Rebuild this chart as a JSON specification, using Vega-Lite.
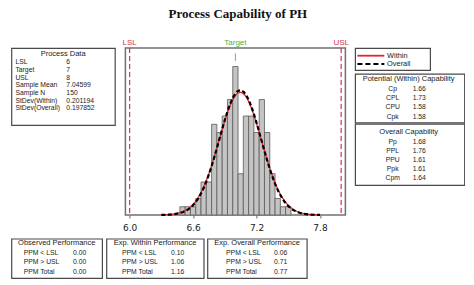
{
  "$schema": "https://vega.github.io/schema/vega-lite/v6.json",
  "background": "white",
  "padding": {"left": 10.4, "top": 8, "right": 0, "bottom": 0},
  "title": {"text": "Process Capability of PH", "font": "Liberation Serif", "fontSize": 13, "fontWeight": "bold", "color": "#111111", "anchor": "middle", "offset": 17},
  "config": {
    "view": {"stroke": "#4a4a4a", "strokeWidth": 1},
    "text": {"font": "Liberation Sans", "color": "#1a1a1a"}
  },
  "datasets": {
    "bins": [
      {"bin_start": 6.475, "bin_end": 6.525, "count": 1},
      {"bin_start": 6.525, "bin_end": 6.575, "count": 1},
      {"bin_start": 6.575, "bin_end": 6.625, "count": 1},
      {"bin_start": 6.625, "bin_end": 6.675, "count": 2},
      {"bin_start": 6.675, "bin_end": 6.725, "count": 4},
      {"bin_start": 6.725, "bin_end": 6.775, "count": 4},
      {"bin_start": 6.775, "bin_end": 6.825, "count": 11},
      {"bin_start": 6.825, "bin_end": 6.875, "count": 10},
      {"bin_start": 6.875, "bin_end": 6.925, "count": 12},
      {"bin_start": 6.925, "bin_end": 6.975, "count": 14},
      {"bin_start": 6.975, "bin_end": 7.025, "count": 18},
      {"bin_start": 7.025, "bin_end": 7.075, "count": 5},
      {"bin_start": 7.075, "bin_end": 7.125, "count": 12},
      {"bin_start": 7.125, "bin_end": 7.175, "count": 12},
      {"bin_start": 7.175, "bin_end": 7.225, "count": 10},
      {"bin_start": 7.225, "bin_end": 7.275, "count": 14},
      {"bin_start": 7.275, "bin_end": 7.325, "count": 10},
      {"bin_start": 7.325, "bin_end": 7.375, "count": 5},
      {"bin_start": 7.375, "bin_end": 7.425, "count": 2},
      {"bin_start": 7.425, "bin_end": 7.475, "count": 1},
      {"bin_start": 7.475, "bin_end": 7.525, "count": 1}
    ],
    "fit": [
      {"x": 6.30, "within": 0.015, "overall": 0.012},
      {"x": 6.35, "within": 0.037, "overall": 0.031},
      {"x": 6.40, "within": 0.086, "overall": 0.073},
      {"x": 6.45, "within": 0.185, "overall": 0.162},
      {"x": 6.50, "within": 0.374, "overall": 0.336},
      {"x": 6.55, "within": 0.712, "overall": 0.653},
      {"x": 6.60, "within": 1.274, "overall": 1.192},
      {"x": 6.65, "within": 2.144, "overall": 2.041},
      {"x": 6.70, "within": 3.390, "overall": 3.278},
      {"x": 6.75, "within": 5.039, "overall": 4.938},
      {"x": 6.80, "within": 7.042, "overall": 6.981},
      {"x": 6.85, "within": 9.253, "overall": 9.259},
      {"x": 6.90, "within": 11.429, "overall": 11.519},
      {"x": 6.95, "within": 13.271, "overall": 13.444},
      {"x": 7.00, "within": 14.487, "overall": 14.720},
      {"x": 7.025, "within": 14.790, "overall": 15.038},
      {"x": 7.05, "within": 14.868, "overall": 15.120},
      {"x": 7.075, "within": 14.717, "overall": 14.961},
      {"x": 7.10, "within": 14.345, "overall": 14.570},
      {"x": 7.15, "within": 13.011, "overall": 13.172},
      {"x": 7.20, "within": 11.096, "overall": 11.171},
      {"x": 7.25, "within": 8.894, "overall": 8.888},
      {"x": 7.30, "within": 6.703, "overall": 6.634},
      {"x": 7.35, "within": 4.749, "overall": 4.645},
      {"x": 7.40, "within": 3.163, "overall": 3.051},
      {"x": 7.45, "within": 1.981, "overall": 1.881},
      {"x": 7.50, "within": 1.166, "overall": 1.087},
      {"x": 7.55, "within": 0.645, "overall": 0.589},
      {"x": 7.60, "within": 0.336, "overall": 0.300},
      {"x": 7.65, "within": 0.164, "overall": 0.143},
      {"x": 7.70, "within": 0.076, "overall": 0.064},
      {"x": 7.75, "within": 0.033, "overall": 0.027},
      {"x": 7.80, "within": 0.013, "overall": 0.011}
    ],
    "specs": [
      {"name": "LSL", "value": 6},
      {"name": "Target", "value": 7},
      {"name": "USL", "value": 8}
    ],
    "processData": [
      {"i": 0, "label": "Process Data", "value": ""},
      {"i": 1, "label": "LSL", "value": "6"},
      {"i": 2, "label": "Target", "value": "7"},
      {"i": 3, "label": "USL", "value": "8"},
      {"i": 4, "label": "Sample Mean", "value": "7.04599"},
      {"i": 5, "label": "Sample N", "value": "150"},
      {"i": 6, "label": "StDev(Within)", "value": "0.201194"},
      {"i": 7, "label": "StDev(Overall)", "value": "0.197852"}
    ],
    "legendRows": [
      {"i": 0, "name": "Within"},
      {"i": 1, "name": "Overall"}
    ],
    "potential": [
      {"i": 0, "label": "Potential (Within) Capability", "value": ""},
      {"i": 1, "label": "Cp", "value": "1.66"},
      {"i": 2, "label": "CPL", "value": "1.73"},
      {"i": 3, "label": "CPU", "value": "1.58"},
      {"i": 4, "label": "Cpk", "value": "1.58"}
    ],
    "overallCap": [
      {"i": 0, "label": "Overall Capability", "value": ""},
      {"i": 1, "label": "Pp", "value": "1.68"},
      {"i": 2, "label": "PPL", "value": "1.76"},
      {"i": 3, "label": "PPU", "value": "1.61"},
      {"i": 4, "label": "Ppk", "value": "1.61"},
      {"i": 5, "label": "Cpm", "value": "1.64"}
    ],
    "observed": [
      {"i": 0, "label": "Observed Performance", "value": ""},
      {"i": 1, "label": "PPM < LSL", "value": "0.00"},
      {"i": 2, "label": "PPM > USL", "value": "0.00"},
      {"i": 3, "label": "PPM Total", "value": "0.00"}
    ],
    "expWithin": [
      {"i": 0, "label": "Exp. Within Performance", "value": ""},
      {"i": 1, "label": "PPM < LSL", "value": "0.10"},
      {"i": 2, "label": "PPM > USL", "value": "1.06"},
      {"i": 3, "label": "PPM Total", "value": "1.16"}
    ],
    "expOverall": [
      {"i": 0, "label": "Exp. Overall Performance", "value": ""},
      {"i": 1, "label": "PPM < LSL", "value": "0.06"},
      {"i": 2, "label": "PPM > USL", "value": "0.71"},
      {"i": 3, "label": "PPM Total", "value": "0.77"}
    ]
  },
  "vconcat": [
    {
      "hconcat": [
        {
          "width": 103.5, "height": 77,
          "data": {"name": "processData"},
          "view": {"stroke": "#4a4a4a", "strokeWidth": 1.2},
          "encoding": {"y": {"field": "i", "type": "quantitative", "scale": {"domain": [-0.847, 9.19], "reverse": true}, "axis": null}},
          "layer": [
            {"transform": [{"filter": "datum.i == 0"}], "mark": {"type": "text", "align": "center", "baseline": "middle", "fontSize": 7.5},
             "encoding": {"x": {"datum": 0.5, "type": "quantitative", "scale": {"domain": [0, 1]}, "axis": null}, "text": {"field": "label"}}},
            {"transform": [{"filter": "datum.i > 0"}], "mark": {"type": "text", "align": "left", "baseline": "middle", "fontSize": 6.8},
             "encoding": {"x": {"datum": 0.039, "type": "quantitative", "scale": {"domain": [0, 1]}, "axis": null}, "text": {"field": "label"}}},
            {"transform": [{"filter": "datum.i > 0"}], "mark": {"type": "text", "align": "left", "baseline": "middle", "fontSize": 6.8},
             "encoding": {"x": {"datum": 0.531, "type": "quantitative", "scale": {"domain": [0, 1]}, "axis": null}, "text": {"field": "value"}}}
          ]
        },
        {
          "hconcat": [
            {
              "width": 220, "height": 167,
              "view": {"stroke": "#707070", "strokeWidth": 1.5},
              "layer": [
                {"data": {"name": "bins"},
                 "mark": {"type": "rect", "fill": "#c4c4c4", "stroke": "#5a5a5a", "strokeWidth": 0.8},
                 "encoding": {
                   "x": {"field": "bin_start", "type": "quantitative", "scale": {"domain": [5.96, 8.04], "nice": false, "zero": false},
                         "axis": {"values": [6.0, 6.3, 6.6, 6.9, 7.2, 7.5, 7.8], "format": ".1f", "title": null, "grid": false, "domain": false,
                                  "labelFont": "DejaVu Sans", "labelFontSize": 9, "labelColor": "#222222", "ticks": true, "tickSize": 3, "tickColor": "#666666", "labelPadding": 6}},
                   "x2": {"field": "bin_end"},
                   "y": {"field": "count", "type": "quantitative", "scale": {"domain": [0, 20.25], "nice": false}, "axis": null},
                   "y2": {"datum": 0}
                 }},
                {"data": {"name": "specs"}, "transform": [{"filter": "datum.name != 'Target'"}],
                 "mark": {"type": "rule", "color": "#d9304f", "strokeDash": [5, 3], "strokeWidth": 1.2},
                 "encoding": {"x": {"field": "value", "type": "quantitative"}}},
                {"data": {"name": "specs"}, "transform": [{"filter": "datum.name == 'Target'"}],
                 "mark": {"type": "rule", "color": "#7fa87f", "strokeWidth": 1},
                 "encoding": {"x": {"field": "value", "type": "quantitative"}, "y": {"datum": 19.6}, "y2": {"datum": 18.7}}},
                {"data": {"name": "fit"},
                 "mark": {"type": "line", "color": "#e3262e", "strokeWidth": 1.3, "interpolate": "monotone"},
                 "encoding": {"x": {"field": "x", "type": "quantitative"}, "y": {"field": "within", "type": "quantitative"}}},
                {"data": {"name": "fit"},
                 "mark": {"type": "line", "color": "#000000", "strokeWidth": 2.2, "strokeDash": [4, 2.5], "interpolate": "monotone"},
                 "encoding": {"x": {"field": "x", "type": "quantitative"}, "y": {"field": "overall", "type": "quantitative"}}},
                {"data": {"name": "specs"},
                 "mark": {"type": "text", "baseline": "middle", "align": "center", "fontSize": 8, "dy": -5, "clip": false},
                 "encoding": {
                   "x": {"field": "value", "type": "quantitative"},
                   "y": {"datum": 20.25},
                   "text": {"field": "name"},
                   "color": {"field": "name", "type": "nominal", "scale": {"domain": ["LSL", "Target", "USL"], "range": ["#d9304f", "#4fae4f", "#d9304f"]}, "legend": null}
                 }}
              ]
            },
            {
              "vconcat": [
                {
                  "width": 75, "height": 22,
                  "data": {"name": "legendRows"},
                  "view": {"stroke": "#4a4a4a", "strokeWidth": 1.2},
                  "encoding": {"y": {"field": "i", "type": "quantitative", "scale": {"domain": [-0.928, 1.723], "reverse": true}, "axis": null}},
                  "layer": [
                    {"transform": [{"filter": "datum.name == 'Within'"}], "mark": {"type": "rule", "color": "#e3262e", "strokeWidth": 1.8},
                     "encoding": {"x": {"datum": 0.031, "type": "quantitative", "scale": {"domain": [0, 1]}, "axis": null}, "x2": {"datum": 0.39}}},
                    {"transform": [{"filter": "datum.name == 'Overall'"}], "mark": {"type": "rule", "color": "#000000", "strokeWidth": 2.2, "strokeDash": [5, 3]},
                     "encoding": {"x": {"datum": 0.031, "type": "quantitative", "scale": {"domain": [0, 1]}, "axis": null}, "x2": {"datum": 0.39}}},
                    {"mark": {"type": "text", "align": "left", "baseline": "middle", "fontSize": 7.4},
                     "encoding": {"x": {"datum": 0.427, "type": "quantitative", "scale": {"domain": [0, 1]}, "axis": null}, "text": {"field": "name"}}}
                  ]
                },
                {
                  "vconcat": [
                    {
                      "width": 109.3, "height": 48.7,
                      "data": {"name": "potential"},
                      "view": {"stroke": "#4a4a4a", "strokeWidth": 1.2},
                      "encoding": {"y": {"field": "i", "type": "quantitative", "scale": {"domain": [-0.602, 4.634], "reverse": true}, "axis": null}},
                      "layer": [
                        {"transform": [{"filter": "datum.i == 0"}], "mark": {"type": "text", "align": "center", "baseline": "middle", "fontSize": 7.5},
                         "encoding": {"x": {"datum": 0.49, "type": "quantitative", "scale": {"domain": [0, 1]}, "axis": null}, "text": {"field": "label"}}},
                        {"transform": [{"filter": "datum.i > 0"}], "mark": {"type": "text", "align": "center", "baseline": "middle", "fontSize": 6.8},
                         "encoding": {"x": {"datum": 0.344, "type": "quantitative", "scale": {"domain": [0, 1]}, "axis": null}, "text": {"field": "label"}}},
                        {"transform": [{"filter": "datum.i > 0"}], "mark": {"type": "text", "align": "left", "baseline": "middle", "fontSize": 6.8},
                         "encoding": {"x": {"datum": 0.527, "type": "quantitative", "scale": {"domain": [0, 1]}, "axis": null}, "text": {"field": "value"}}}
                      ]
                    },
                    {
                      "width": 109.3, "height": 61.3,
                      "data": {"name": "overallCap"},
                      "view": {"stroke": "#4a4a4a", "strokeWidth": 1.2},
                      "encoding": {"y": {"field": "i", "type": "quantitative", "scale": {"domain": [-0.924, 5.739], "reverse": true}, "axis": null}},
                      "layer": [
                        {"transform": [{"filter": "datum.i == 0"}], "mark": {"type": "text", "align": "center", "baseline": "middle", "fontSize": 7.5},
                         "encoding": {"x": {"datum": 0.49, "type": "quantitative", "scale": {"domain": [0, 1]}, "axis": null}, "text": {"field": "label"}}},
                        {"transform": [{"filter": "datum.i > 0"}], "mark": {"type": "text", "align": "center", "baseline": "middle", "fontSize": 6.8},
                         "encoding": {"x": {"datum": 0.344, "type": "quantitative", "scale": {"domain": [0, 1]}, "axis": null}, "text": {"field": "label"}}},
                        {"transform": [{"filter": "datum.i > 0"}], "mark": {"type": "text", "align": "left", "baseline": "middle", "fontSize": 6.8},
                         "encoding": {"x": {"datum": 0.527, "type": "quantitative", "scale": {"domain": [0, 1]}, "axis": null}, "text": {"field": "value"}}}
                      ]
                    }
                  ],
                  "spacing": -1.2
                }
              ],
              "spacing": 1.8
            }
          ],
          "spacing": 3.7
        }
      ],
      "spacing": 5
    },
    {
      "hconcat": [
        {
          "width": 90.7, "height": 39.4,
          "data": {"name": "observed"},
          "view": {"stroke": "#4a4a4a", "strokeWidth": 1.2},
          "encoding": {"y": {"field": "i", "type": "quantitative", "scale": {"domain": [-0.484, 3.663], "reverse": true}, "axis": null}},
          "layer": [
            {"transform": [{"filter": "datum.i == 0"}], "mark": {"type": "text", "align": "center", "baseline": "middle", "fontSize": 7.5},
             "encoding": {"x": {"datum": 0.5, "type": "quantitative", "scale": {"domain": [0, 1]}, "axis": null}, "text": {"field": "label"}}},
            {"transform": [{"filter": "datum.i > 0"}], "mark": {"type": "text", "align": "left", "baseline": "middle", "fontSize": 6.8},
             "encoding": {"x": {"datum": 0.136, "type": "quantitative", "scale": {"domain": [0, 1]}, "axis": null}, "text": {"field": "label"}}},
            {"transform": [{"filter": "datum.i > 0"}], "mark": {"type": "text", "align": "left", "baseline": "middle", "fontSize": 6.8},
             "encoding": {"x": {"datum": 0.68, "type": "quantitative", "scale": {"domain": [0, 1]}, "axis": null}, "text": {"field": "value"}}}
          ]
        },
        {
          "width": 97.3, "height": 39.4,
          "data": {"name": "expWithin"},
          "view": {"stroke": "#4a4a4a", "strokeWidth": 1.2},
          "encoding": {"y": {"field": "i", "type": "quantitative", "scale": {"domain": [-0.484, 3.663], "reverse": true}, "axis": null}},
          "layer": [
            {"transform": [{"filter": "datum.i == 0"}], "mark": {"type": "text", "align": "center", "baseline": "middle", "fontSize": 7.5},
             "encoding": {"x": {"datum": 0.5, "type": "quantitative", "scale": {"domain": [0, 1]}, "axis": null}, "text": {"field": "label"}}},
            {"transform": [{"filter": "datum.i > 0"}], "mark": {"type": "text", "align": "left", "baseline": "middle", "fontSize": 6.8},
             "encoding": {"x": {"datum": 0.161, "type": "quantitative", "scale": {"domain": [0, 1]}, "axis": null}, "text": {"field": "label"}}},
            {"transform": [{"filter": "datum.i > 0"}], "mark": {"type": "text", "align": "left", "baseline": "middle", "fontSize": 6.8},
             "encoding": {"x": {"datum": 0.665, "type": "quantitative", "scale": {"domain": [0, 1]}, "axis": null}, "text": {"field": "value"}}}
          ]
        },
        {
          "width": 99.4, "height": 39.4,
          "data": {"name": "expOverall"},
          "view": {"stroke": "#4a4a4a", "strokeWidth": 1.2},
          "encoding": {"y": {"field": "i", "type": "quantitative", "scale": {"domain": [-0.484, 3.663], "reverse": true}, "axis": null}},
          "layer": [
            {"transform": [{"filter": "datum.i == 0"}], "mark": {"type": "text", "align": "center", "baseline": "middle", "fontSize": 7.5},
             "encoding": {"x": {"datum": 0.5, "type": "quantitative", "scale": {"domain": [0, 1]}, "axis": null}, "text": {"field": "label"}}},
            {"transform": [{"filter": "datum.i > 0"}], "mark": {"type": "text", "align": "left", "baseline": "middle", "fontSize": 6.8},
             "encoding": {"x": {"datum": 0.188, "type": "quantitative", "scale": {"domain": [0, 1]}, "axis": null}, "text": {"field": "label"}}},
            {"transform": [{"filter": "datum.i > 0"}], "mark": {"type": "text", "align": "left", "baseline": "middle", "fontSize": 6.8},
             "encoding": {"x": {"datum": 0.671, "type": "quantitative", "scale": {"domain": [0, 1]}, "axis": null}, "text": {"field": "value"}}}
          ]
        }
      ],
      "spacing": 2
    }
  ],
  "spacing": 3.7
}
